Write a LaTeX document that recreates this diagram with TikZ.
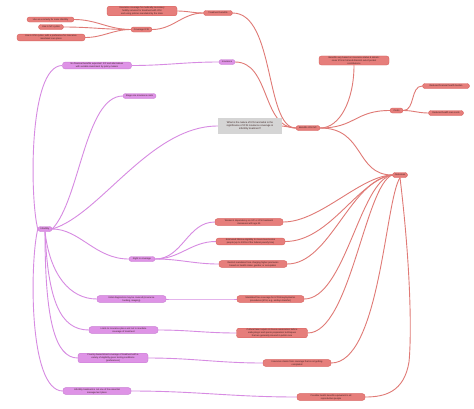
\documentclass[tikz,border=0pt]{standalone}
\usepackage{fontspec}
\setmainfont{Liberation Sans}
\usetikzlibrary{backgrounds}
\definecolor{rfill}{HTML}{E67E7B}
\definecolor{rdraw}{HTML}{D8605D}
\definecolor{rline}{HTML}{E07A76}
\definecolor{pfill}{HTML}{DE93E6}
\definecolor{pdraw}{HTML}{C97BD3}
\definecolor{pline}{HTML}{D78BE2}
\definecolor{gfill}{HTML}{D5D5D5}
\definecolor{txt}{HTML}{3A2020}
\begin{document}
\begin{tikzpicture}[x=1pt,y=-1pt,
 box/.style={rounded corners=2.5pt, align=center, inner xsep=1.5pt, inner ysep=0.8pt, minimum height=5pt, font=\fontsize{2.3}{2.9}\selectfont, text=txt, line width=0.4pt},
 rn/.style={box, draw=rdraw, fill=rfill},
 pn/.style={box, draw=pdraw, fill=pfill},
 rl/.style={draw=rline, line width=0.9pt},
 pl/.style={draw=pline, line width=0.9pt}]
\useasboundingbox (0,0) rectangle (474,408);
% central
\node[fill=gfill, align=center, minimum width=64pt, minimum height=16pt, inner sep=1pt, font=\fontsize{2.5}{3.2}\selectfont, text=txt] (c) at (250,126) {What is the nature of ICSI and what is the\\ significance of ICSI insurance coverage in\\ infertility treatment?};
% red nodes
\node[rn, minimum width=47pt] (r1) at (50.5,19.5) {Use as a remedy for male infertility};
\node[rn, minimum width=25pt] (r2) at (51,27) {Use in IVF cycles};
\node[rn, minimum width=68pt] (r3) at (51,37.5) {Use in ICSI cycles, with a preference for insurance\\ mandated care plans};
\node[rn, minimum width=21pt] (r4) at (141.5,29.5) {Coverage ICSI};
\node[rn, minimum width=70pt] (r5) at (142,11) {Insurance coverage for medically necessary\\ fertility services for treatment with ICSI\\ and using policies mandated by the state};
\node[rn, minimum width=29pt] (r6) at (218,13) {Treatment benefits};
\node[rn, minimum width=24pt] (r7) at (308,128) {Benefits ICSI IVF};
\node[rn, minimum width=70pt] (r8) at (354,60.5) {Benefits vary based on insurance status \& details:\\ cover ICSI in full and diminish out-of-pocket\\ contributions};
\node[rn, minimum width=13pt] (r9) at (396.5,110.5) {Costs};
\node[rn, minimum width=47pt] (r10) at (446,86) {Reduced financial health burden};
\node[rn, minimum width=35pt] (r11) at (446,113) {Reduced health care costs};
\node[rn, minimum width=15pt] (r12) at (400,175) {Outcomes};
\node[rn, minimum width=68pt] (r13) at (249,222) {Women's dependency on IVF or ICSI treatment\\ decreases with age 35};
\node[rn, minimum width=69pt] (r14) at (250.5,241.5) {Estimated lifetime eligibility to insure low-income\\ people (up to 100\% of the federal poverty line)};
\node[rn, minimum width=68pt] (r15) at (253,264) {Restrict mandates from charging higher premiums\\ based on health status, gender, or occupation};
\node[rn, minimum width=67pt] (r16) at (270.5,299) {Mandated free coverage for IVF/intracytoplasmic\\ procedures (ICSI, e.g., embryo transfer)};
\node[rn, minimum width=71pt] (r17) at (272,333) {Cultural laws require in-house examination before\\ embryologic and sperm preparation techniques\\ that are generally insured in public care};
\node[rn, minimum width=68pt] (r18) at (297,363) {Insurance claims from coverage that is not getting\\ completed};
\node[rn, minimum width=68pt] (r19) at (331,397) {Possible health benefits equivalent to all\\ reproductive people};
% purple nodes
\node[pn, minimum width=14pt] (p0) at (45,229) {Infertility};
\node[pn, minimum width=69pt] (p1) at (97,65.5) {No financial benefits expected: IVF and alternatives\\ with variable investment by policy makers};
\node[pn, minimum width=16pt] (p2) at (227,62) {Insurance};
\node[pn, minimum width=33pt] (p3) at (139.5,96) {Stage one insurance costs};
\node[pn, minimum width=26pt] (p4) at (142,259) {Right to coverage};
\node[pn, minimum width=69pt] (p5) at (131.5,299) {Initial diagnostics may be covered (insurance\\ funding, imaging)};
\node[pn, minimum width=69pt] (p6) at (123.5,330) {Limits to insurance plans and not to mandate\\ coverage of treatment};
\node[pn, minimum width=70pt] (p7) at (113,358) {Country-based direct coverage of treatment with a\\ variety of eligibility given testing conditions\\ (preferences)};
\node[pn, minimum width=68pt] (p8) at (97,391) {Infertility treatment is not one of the essential\\ management plans};
\begin{pgfonlayer}{background}
\fill[white] (0,0) rectangle (474,408);
% purple connectors
\draw[pl] (p0.west) .. controls (30,200) and (28,65.5) .. (p1.west);
\draw[pl] (p0.east) .. controls (80,200) and (85,96) .. (p3.west);
\draw[pl] (p0.east) .. controls (100,215) and (150,126) .. (c.west);
\draw[pl] (p0.east) .. controls (80,229) and (95,259) .. (p4.west);
\draw[pl] (p0.south) .. controls (50,275) and (70,299) .. (p5.west);
\draw[pl] (p0.south) .. controls (48,300) and (60,330) .. (p6.west);
\draw[pl] (p0.south) .. controls (45,320) and (55,358) .. (p7.west);
\draw[pl] (p0.west) .. controls (30,260) and (28,391) .. (p8.west);
\draw[pl] (p1.east) to[out=0,in=180] (p2.west);
\draw[pl] (p4.east) to[out=0,in=180] (r13.west);
\draw[pl] (p4.east) to[out=0,in=180] (r14.west);
\draw[pl] (p4.east) to[out=0,in=180] (r15.west);
\draw[pl] (p5.east) to[out=0,in=180] (r16.west);
\draw[pl] (p6.east) to[out=0,in=180] (r17.west);
\draw[pl] (p7.east) to[out=0,in=180] (r18.west);
\draw[pl] (p8.east) to[out=0,in=180] (r19.west);
% red connectors
\draw[rl] (r4.west) to[out=180,in=0] (r1.east);
\draw[rl] (r4.west) to[out=180,in=0] (r2.east);
\draw[rl] (r4.west) to[out=180,in=0] (r3.east);
\draw[rl] (r4.east) to[out=0,in=180] (r6.west);
\draw[rl] (r5.east) to[out=0,in=180] (r6.west);
\draw[rl] (r6.east) .. controls (275,13) and (265,128) .. (r7.west);
\draw[rl] (p2.east) .. controls (270,62) and (262,128) .. (r7.west);
\draw[rl] (c.east) -- (r7.west);
\draw[rl] (r7.east) .. controls (340,128) and (354,100) .. (r8.south);
\draw[rl] (r7.east) .. controls (355,128) and (355,110.5) .. (r9.west);
\draw[rl] (r7.east) .. controls (365,128) and (355,175) .. (r12.west);
\draw[rl] (r9.east) to[out=0,in=180] (r10.west);
\draw[rl] (r9.east) to[out=0,in=180] (r11.west);
\draw[rl] (r12.west) .. controls (360,176) and (320,222) .. (r13.east);
\draw[rl] (r12.west) .. controls (358,180) and (330,241.5) .. (r14.east);
\draw[rl] (r12.west) .. controls (350,180) and (330,264) .. (r15.east);
\draw[rl] (r12.west) .. controls (360,180) and (345,299) .. (r16.east);
\draw[rl] (r12.west) .. controls (365,185) and (350,333) .. (r17.east);
\draw[rl] (r12.south) .. controls (385,200) and (380,363) .. (r18.east);
\draw[rl] (r12.south) .. controls (410,260) and (412,330) .. (409,362) .. controls (404,392) and (385,397) .. (r19.east);
\end{pgfonlayer}
\end{tikzpicture}
\end{document}
